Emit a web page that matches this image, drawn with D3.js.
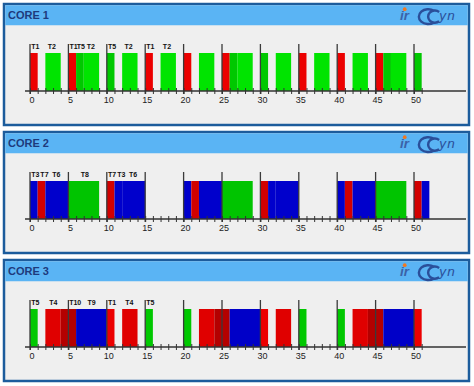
<!DOCTYPE html>
<html>
<head>
<meta charset="utf-8">
<script src="https://cdn.jsdelivr.net/npm/d3@7"></script>
<style>
  body { margin: 0; background: #fff; }
  svg { display: block; font-family: "Liberation Sans", Arial, sans-serif; }
</style>
</head>
<body>
<div id="chart"></div>
<script>
// cores shown, one panel each
var cores = ["CORE 1", "CORE 2", "CORE 3"];

// jobs per core: [task, start, end]
var core1Jobs = [
  ["T1", 0, 1], ["T2", 2, 4],
  ["T1", 5, 6], ["T5", 6, 7], ["T2", 7, 9],
  ["T5", 10, 11], ["T2", 12, 14],
  ["T1", 15, 16], ["T2", 17, 19],
  ["T1", 20, 21], ["T2", 22, 24],
  ["T1", 25, 26], ["T5", 26, 27], ["T2", 27, 29],
  ["T5", 30, 31], ["T2", 32, 34],
  ["T1", 35, 36], ["T2", 37, 39],
  ["T1", 40, 41], ["T2", 42, 44],
  ["T1", 45, 46], ["T5", 46, 47], ["T2", 47, 49],
  ["T5", 50, 51]
];
var core2Jobs = [
  ["T3", 0, 1], ["T7", 1, 2], ["T6", 2, 5], ["T8", 5, 9],
  ["T7", 10, 11], ["T3", 11, 12], ["T6", 12, 15],
  ["T3", 20, 21], ["T7", 21, 22], ["T6", 22, 25], ["T8", 25, 29],
  ["T7", 30, 31], ["T3", 31, 32], ["T6", 32, 35],
  ["T3", 40, 41], ["T7", 41, 42], ["T6", 42, 45], ["T8", 45, 49],
  ["T7", 50, 51], ["T3", 51, 52]
];
var core3Jobs = [
  ["T5", 0, 1], ["T4", 2, 4], ["T10", 4, 6], ["T9", 6, 10], ["T1", 10, 11],
  ["T4", 12, 14], ["T5", 15, 16],
  ["T5", 20, 21], ["T4", 22, 24], ["T10", 24, 26], ["T9", 26, 30], ["T1", 30, 31],
  ["T4", 32, 34], ["T5", 35, 36],
  ["T5", 40, 41], ["T4", 42, 44], ["T10", 44, 46], ["T9", 46, 50], ["T1", 50, 51]
];
var jobsByCore = [core1Jobs, core2Jobs, core3Jobs];

// task labels drawn above the first period: [task, time]
var core1Labels = [["T1", 0.15], ["T2", 2.3], ["T1", 5.15], ["T5", 6.1], ["T2", 7.4],
                   ["T5", 10.15], ["T2", 12.3], ["T1", 15.15], ["T2", 17.3]];
var core2Labels = [["T3", 0.15], ["T7", 1.35], ["T6", 2.9], ["T8", 6.6],
                   ["T7", 10.15], ["T3", 11.35], ["T6", 12.9]];
var core3Labels = [["T5", 0.15], ["T4", 2.5], ["T10", 5.1], ["T9", 7.5],
                   ["T1", 10.15], ["T4", 12.4], ["T5", 15.15]];
var labelsByCore = [core1Labels, core2Labels, core3Labels];

// task colours
var taskColor = {
  T1: "#ec0000", T2: "#00e400", T5: "#00c800",
  T3: "#0000cc", T6: "#0000cc", T7: "#d20000", T8: "#00c400",
  T4: "#e00000", T9: "#0000c8", T10: "#b40000"
};

var periodLines = d3.range(0, 51, 5);
var tickValues = d3.range(0, 52);

var W = 474, H = 386;
var svg = d3.select("#chart").append("svg").attr("width", W).attr("height", H);

var x = d3.scaleLinear().domain([0, 50]).range([30, 414]);

var panelH = 121, panelStep = 128;

cores.forEach(function(name, i) {
  var top = 4 + i * panelStep;
  var g = svg.append("g").attr("transform", "translate(0," + top + ")");

  g.append("rect")
      .attr("x", 4).attr("y", 0).attr("width", 465).attr("height", panelH)
      .attr("fill", "#efefef").attr("stroke", "#1c5c9c").attr("stroke-width", 2.5);
  g.append("rect")
      .attr("x", 5.25).attr("y", 1.25).attr("width", 462.5).attr("height", 20)
      .attr("fill", "#5ab4f4");
  g.append("text")
      .attr("x", 8).attr("y", 15)
      .attr("font-size", 11).attr("font-weight", "bold").attr("fill", "#1e3a7c")
      .text(name);

  // logo
  var logo = g.append("g").attr("transform", "translate(400,16) scale(1.35)");
  logo.append("text").attr("x", 0).attr("y", 0)
      .attr("font-size", 10).attr("font-style", "italic").attr("font-weight", "bold")
      .attr("fill", "#3a62a8").text("ir");
  logo.append("circle").attr("cx", 3.5).attr("cy", -8).attr("r", 1.4).attr("fill", "#f07820");
  logo.append("path")
      .attr("d", "M25,-7 A7,5.5 0 1 0 25,2 M29,-6 A5,4.5 0 1 0 29,1")
      .attr("fill", "none").attr("stroke", "#2a4f9a").attr("stroke-width", 1.8);
  logo.append("text").attr("x", 29).attr("y", 0)
      .attr("font-size", 10).attr("font-style", "italic").attr("letter-spacing", 1)
      .attr("fill", "#2a4f9a").text("yn");

  var axisY = 87, barTop = 49, lineTop = 40;

  // job bars
  g.append("g").selectAll("rect")
      .data(jobsByCore[i])
    .enter().append("rect")
      .attr("x", function(d) { return x(d[1]); })
      .attr("y", barTop)
      .attr("width", function(d) { return x(d[2]) - x(d[1]); })
      .attr("height", axisY - barTop)
      .attr("fill", function(d) { return taskColor[d[0]]; });

  // period markers
  g.append("g").selectAll("line")
      .data(periodLines)
    .enter().append("line")
      .attr("x1", x).attr("x2", x)
      .attr("y1", lineTop).attr("y2", axisY + 3)
      .attr("stroke", "#3a3a3a").attr("stroke-width", 1.3);

  // axis
  g.append("line")
      .attr("x1", 25).attr("x2", 466).attr("y1", axisY).attr("y2", axisY)
      .attr("stroke", "#333").attr("stroke-width", 1.3);

  var axis = d3.axisBottom(x)
      .tickValues(tickValues)
      .tickSize(6)
      .tickFormat(function(d) { return d % 5 ? "" : d; });

  var ax = g.append("g")
      .attr("transform", "translate(0," + axisY + ")")
      .call(axis);
  ax.select(".domain").remove();
  ax.selectAll(".tick line").attr("y1", -3).attr("y2", 3).attr("stroke", "#333");
  ax.selectAll(".tick text")
      .attr("y", 6).attr("dx", 1.5)
      .attr("font-size", 9).attr("font-family", "Liberation Sans, Arial, sans-serif")
      .attr("fill", "#222");

  // task labels
  g.append("g").selectAll("text")
      .data(labelsByCore[i])
    .enter().append("text")
      .attr("x", function(d) { return x(d[1]); })
      .attr("y", 45)
      .attr("font-size", 7).attr("font-weight", "bold").attr("fill", "#111")
      .text(function(d) { return d[0]; });
});
</script>
</body>
</html>
